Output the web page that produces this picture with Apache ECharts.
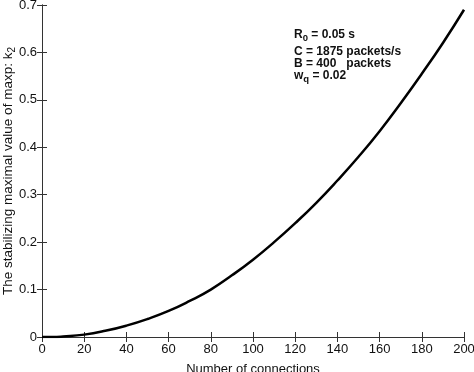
<!DOCTYPE html>
<html><head><meta charset="utf-8">
<script src="https://cdn.jsdelivr.net/npm/echarts@6/dist/echarts.min.js"></script>
<style>html,body{margin:0;padding:0;background:#fff}#c{width:474px;height:372px}</style>
</head><body><div id="c"></div>
<script>
var connections = [0, 5, 10, 20, 30, 40, 50, 60, 70, 80, 90, 100, 110, 120, 130, 140, 150, 160, 170, 180, 190, 200];
var k2 = [0, 0, 0.001, 0.005, 0.013, 0.024, 0.038, 0.055, 0.076, 0.100, 0.130, 0.163, 0.200, 0.240, 0.283, 0.330, 0.380, 0.434, 0.493, 0.555, 0.620, 0.690];
var xTicks = [0, 20, 40, 60, 80, 100, 120, 140, 160, 180, 200];
var yTicks = [0, 0.1, 0.2, 0.3, 0.4, 0.5, 0.6, 0.7];

var chart = echarts.init(document.getElementById('c'));
var font = 'Liberation Sans, Arial, Helvetica, sans-serif';
var axisLine = {show: true, lineStyle: {color: '#333', width: 1}};
var tick = {show: true, inside: true, length: 5, lineStyle: {color: '#333'}};
var data = connections.map(function (c, i) { return [c, k2[i]]; });
var annStyle = {fontFamily: font, fontSize: 12, fontWeight: 'bold', fill: '#111',
  rich: {s: {fontSize: 9.5, fontWeight: 'bold', fontFamily: font, fill: '#111', padding: [7, 0, 0, 0]}}};
function ann(txt, top) {
  return {type: 'text', left: 294, top: top, style: Object.assign({text: txt}, annStyle)};
}
chart.setOption({
  animation: false,
  grid: {left: 42, right: 10, top: 5, bottom: 35, containLabel: false, outerBoundsMode: 'none'},
  xAxis: [{
    type: 'value', min: 0, max: 200, interval: 20,
    axisLine: axisLine, axisTick: tick, splitLine: {show: false},
    axisLabel: {color: '#111', fontFamily: font, fontSize: 13, margin: 6, showMaxLabel: true,
      formatter: function (v) { return xTicks.indexOf(v) >= 0 ? String(v) : ''; }},
    name: 'Number of connections', nameLocation: 'middle', nameGap: 26, nameMoveOverlap: false,
    nameTextStyle: {color: '#111', fontFamily: font, fontSize: 13}
  }, {
    type: 'value', position: 'top', min: 0, max: 200, interval: 20,
    axisLine: axisLine, axisTick: tick, axisLabel: {show: false}, splitLine: {show: false}
  }],
  yAxis: [{
    type: 'value', min: 0, max: 0.7, interval: 0.1,
    axisLine: axisLine, axisTick: tick, splitLine: {show: false},
    axisLabel: {color: '#111', fontFamily: font, fontSize: 13, margin: 5, showMaxLabel: true,
      formatter: function (v) { var r = Math.round(v * 10) / 10; return yTicks.indexOf(r) >= 0 ? String(r) : ''; }},
    name: 'The stabilizing maximal value of maxp: k{s|2}', nameLocation: 'middle', nameGap: 25, nameMoveOverlap: false,
    nameTextStyle: {color: '#111', fontFamily: font, fontSize: 13.5,
      rich: {s: {fontSize: 10, fontFamily: font, color: '#111', padding: [8, 0, 0, 0]}}}
  }, {
    type: 'value', position: 'right', min: 0, max: 0.7, interval: 0.1,
    axisLine: axisLine, axisTick: tick, axisLabel: {show: false}, splitLine: {show: false}
  }],
  series: [{
    type: 'line', data: data, smooth: true, showSymbol: false,
    lineStyle: {color: '#000', width: 2.5}
  }],
  graphic: [
    ann('R{s|0} = 0.05 s', 29),
    ann('C = 1875 packets/s', 46),
    ann('B = 400   packets', 58),
    ann('w{s|q} = 0.02', 70)
  ]
});
</script></body></html>
